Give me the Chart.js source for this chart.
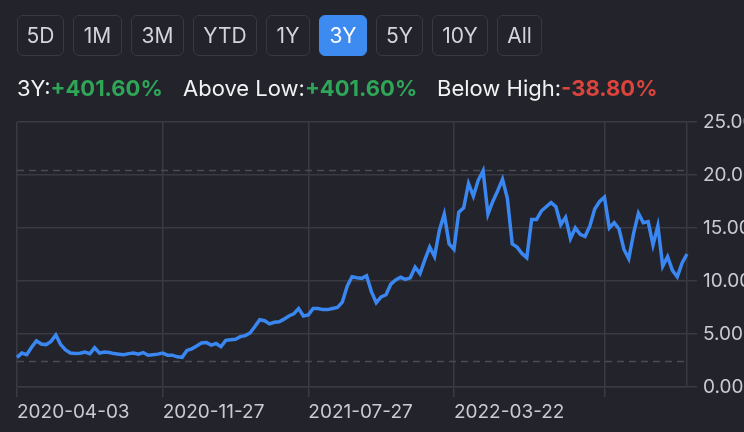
<!DOCTYPE html>
<html>
<head>
    <title>3Y Price Chart</title>
    <script src="https://cdn.jsdelivr.net/npm/chart.js"></script>
    <style>
        html, body {
            margin: 0;
            padding: 0;
            width: 744px;
            height: 432px;
            overflow: hidden;
            background-color: #22232b;
            font-family: Inter, "Noto Sans", sans-serif;
        }
        .btn {
            position: absolute;
            top: 15px;
            height: 39px;
            line-height: 39px;
            border: 1px solid #393a41;
            border-radius: 6px;
            color: #d3d5db;
            font-size: 21px;
            text-align: center;
            box-sizing: content-box;
        }
        .btn.active {
            background-color: #3d8af1;
            border-color: #3d8af1;
            color: #ffffff;
        }
        .stat {
            position: absolute;
            top: 75px;
            font-size: 22px;
            color: #f2f2f4;
            white-space: nowrap;
        }
        .up { color: #2fa557; font-weight: 700; }
        .down { color: #d9443c; font-weight: 700; }
        #wrap {
            position: absolute;
            left: 0;
            top: 0;
            width: 744px;
            height: 432px;
        }
    </style>
</head>
<body>

    <div id="wrap"><canvas id="priceChart"></canvas></div>

    <div class="btn" style="left:17px;width:45px;">5D</div>
    <div class="btn" style="left:73px;width:47px;">1M</div>
    <div class="btn" style="left:131px;width:51px;">3M</div>
    <div class="btn" style="left:193px;width:62px;">YTD</div>
    <div class="btn" style="left:266px;width:42px;">1Y</div>
    <div class="btn active" style="left:319px;width:46px;">3Y</div>
    <div class="btn" style="left:376px;width:45px;">5Y</div>
    <div class="btn" style="left:432px;width:54px;">10Y</div>
    <div class="btn" style="left:497px;width:43px;">All</div>

    <div class="stat" style="left:17px;">3Y:<span class="up">+401.60%</span></div>
    <div class="stat" style="left:183px;">Above Low:<span class="up">+401.60%</span></div>
    <div class="stat" style="left:437px;">Below High:<span class="down">-38.80%</span></div>

    <script>
        // closing prices, roughly one point per week
        const prices = [
            2.8, 3.2, 3.05, 3.75, 4.35, 4.05, 4.0, 4.3, 4.9, 4.0,
            3.5, 3.2, 3.15, 3.18, 3.3, 3.15, 3.7, 3.2, 3.3, 3.25,
            3.15, 3.1, 3.05, 3.15, 3.2, 3.1, 3.25, 3.0, 3.05, 3.1,
            3.2, 3.0, 3.0, 2.85, 2.8, 3.45, 3.6, 3.87, 4.15, 4.2,
            3.95, 4.1, 3.8, 4.4, 4.45, 4.5, 4.75, 4.85, 5.1, 5.7,
            6.35, 6.25, 5.95, 6.1, 6.15, 6.4, 6.7, 6.9, 7.4, 6.7,
            6.8, 7.4, 7.4, 7.3, 7.3, 7.4, 7.5, 8.0, 9.5, 10.4,
            10.3, 10.25, 10.5, 9.0, 7.95, 8.5, 8.7, 9.7, 10.1, 10.35,
            10.15, 10.3, 11.3, 10.7, 12.0, 13.2, 12.3, 14.8, 16.3, 13.5,
            13.0, 16.5, 16.9, 19.2, 18.0, 19.5, 20.4, 16.3, 17.5, 18.5,
            19.6, 17.8, 13.5, 13.2, 12.6, 12.2, 15.8, 15.8, 16.6, 17.0,
            17.4, 17.0, 15.3, 16.0, 14.0, 15.0, 14.4, 14.2, 15.2, 16.8,
            17.5, 17.9, 15.0, 15.5, 14.9, 13.0, 12.1, 14.5, 16.4, 15.5,
            15.6, 13.4, 15.2, 11.4, 12.3, 11.0, 10.4, 11.7, 12.55
        ];

        // x tick positions (point index) and their labels
        const tickIndex = [0, 30, 60, 90, 121];
        const tickText = ['2020-04-03', '2020-11-27', '2021-07-27', '2022-03-22', ''];

        const yTicks = [0, 5, 10, 15, 20, 25];
        const highValue = 20.45;
        const lowValue = 2.49;

        const gridColor = '#393a42';
        const labelColor = '#c9cbd1';

        // dashed lines for the period high and low
        const highLowLines = {
            id: 'highLowLines',
            beforeDatasetsDraw(chart) {
                const ctx = chart.ctx;
                const area = chart.chartArea;
                const y = chart.scales.y;
                ctx.save();
                ctx.strokeStyle = '#4a4b53';
                ctx.lineWidth = 1.5;
                ctx.setLineDash([7, 5]);
                [highValue, lowValue].forEach(v => {
                    const py = Math.round(y.getPixelForValue(v)) + 0.5;
                    ctx.beginPath();
                    ctx.moveTo(area.left, py);
                    ctx.lineTo(area.right, py);
                    ctx.stroke();
                });
                ctx.restore();
            }
        };

        const labels = prices.map((_, i) => i);

        const config = {
            type: 'line',
            data: {
                labels: labels,
                datasets: [{
                    data: prices,
                    borderColor: '#3a87f2',
                    borderWidth: 3.5,
                    pointRadius: 0,
                    tension: 0,
                    fill: false
                }]
            },
            options: {
                responsive: true,
                maintainAspectRatio: false,
                animation: false,
                layout: {
                    padding: { left: 17, top: 122, right: 0, bottom: 0 }
                },
                plugins: {
                    legend: { display: false },
                    tooltip: { enabled: false }
                },
                scales: {
                    x: {
                        type: 'category',
                        afterFit(scale) { scale.height = 45; },
                        grid: {
                            color: gridColor,
                            lineWidth: 1.5,
                            tickLength: 10,
                            tickColor: gridColor
                        },
                        border: { display: true, color: gridColor, width: 1.5 },
                        ticks: {
                            autoSkip: false,
                            maxRotation: 0,
                            minRotation: 0,
                            align: 'start',
                            padding: 4,
                            color: labelColor,
                            font: { family: 'Inter', size: 19 },
                            callback: function (value, index) {
                                const k = tickIndex.indexOf(index);
                                return k === -1 ? null : tickText[k];
                            }
                        }
                    },
                    y: {
                        position: 'right',
                        min: 0,
                        max: 25,
                        afterFit(scale) { scale.width = 57; },
                        afterBuildTicks(scale) {
                            scale.ticks = yTicks.map(v => ({ value: v }));
                        },
                        grid: {
                            color: gridColor,
                            lineWidth: 1.5,
                            tickLength: 10,
                            tickColor: gridColor
                        },
                        border: { display: true, color: gridColor, width: 1.5 },
                        ticks: {
                            padding: 6,
                            color: labelColor,
                            font: { family: 'Inter', size: 19 },
                            callback: value => value.toFixed(2)
                        }
                    }
                }
            },
            plugins: [highLowLines]
        };

        const ctx = document.getElementById('priceChart').getContext('2d');
        new Chart(ctx, config);
    </script>
</body>
</html>
